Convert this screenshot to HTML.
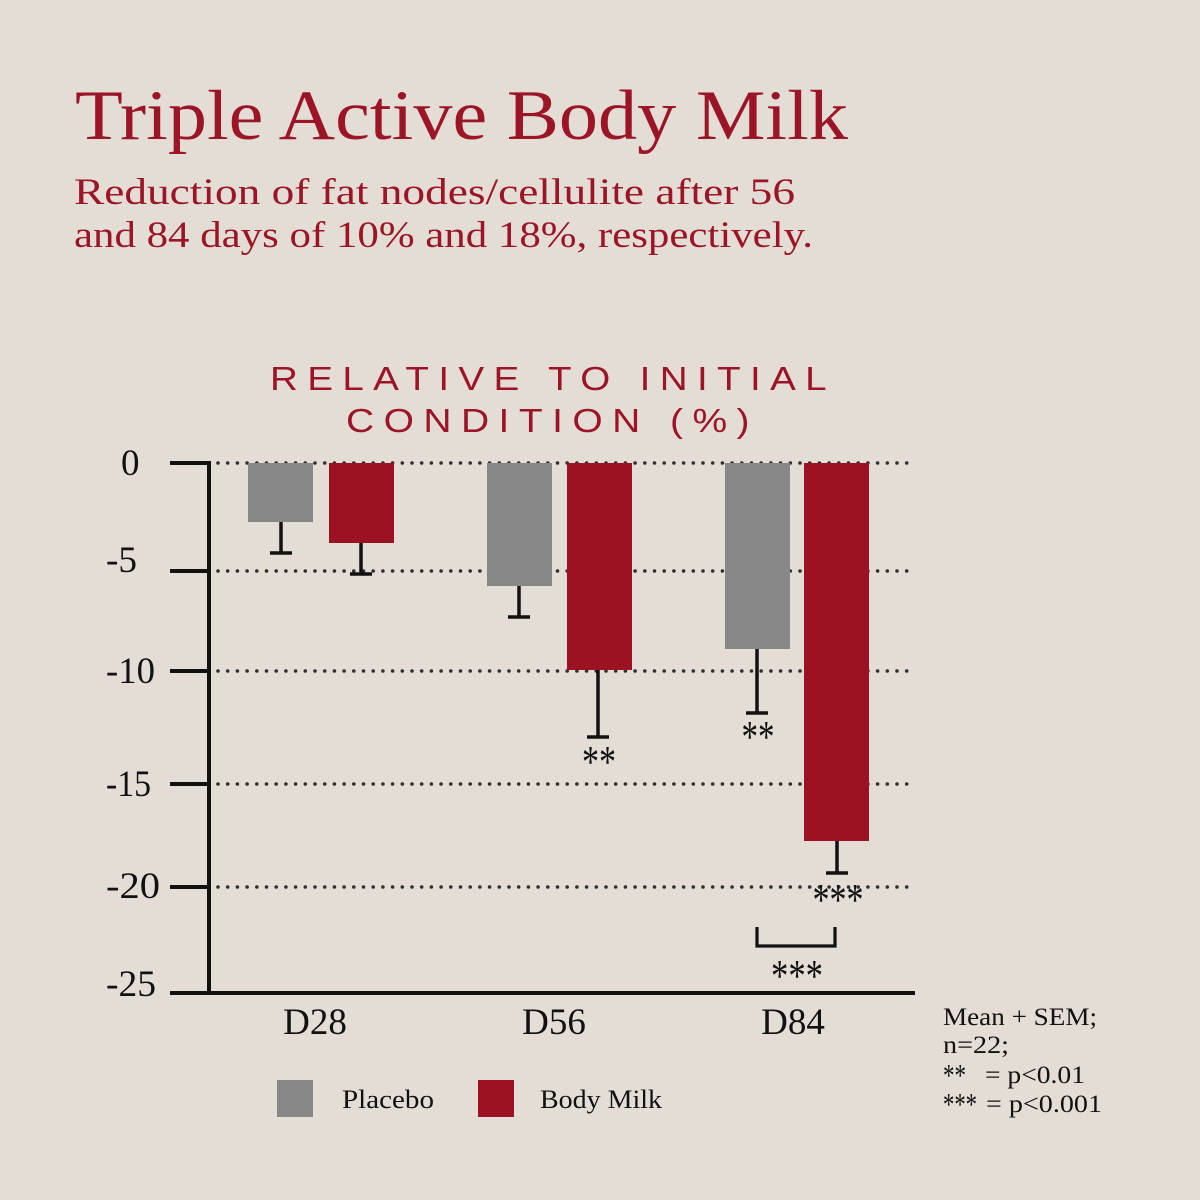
<!DOCTYPE html>
<html><head><meta charset="utf-8"><style>
html,body{margin:0;padding:0;background:#e3ddd6;}
svg{display:block;}
</style></head><body>
<svg width="1200" height="1200" viewBox="0 0 1200 1200" xmlns="http://www.w3.org/2000/svg">
<rect x="0" y="0" width="1200" height="1200" fill="#e3ddd6"/>
<g fill="#9b1526" font-family="Liberation Serif, serif">
<text x="75" y="139" font-size="71" textLength="773" lengthAdjust="spacingAndGlyphs">Triple Active Body Milk</text>
<text x="74" y="204" font-size="37" textLength="721" lengthAdjust="spacingAndGlyphs">Reduction of fat nodes/cellulite after 56</text>
<text x="74" y="247" font-size="37" textLength="739" lengthAdjust="spacingAndGlyphs">and 84 days of 10% and 18%, respectively.</text>
</g>
<g fill="#9b1526" font-family="Liberation Sans, sans-serif" font-size="33">
<text x="270" y="390" textLength="566" lengthAdjust="spacingAndGlyphs" letter-spacing="8">RELATIVE TO INITIAL</text>
<text x="346" y="432" textLength="413" lengthAdjust="spacingAndGlyphs" letter-spacing="8">CONDITION (%)</text>
</g>
<!-- gridlines -->
<g stroke="#2e2e2e" stroke-width="3.6" stroke-linecap="round" stroke-dasharray="0 9.7" fill="none">
<line x1="218" y1="463" x2="916" y2="463"/>
<line x1="218" y1="571" x2="916" y2="571"/>
<line x1="218" y1="671" x2="916" y2="671"/>
<line x1="218" y1="784" x2="916" y2="784"/>
<line x1="218" y1="887" x2="916" y2="887"/>
</g>
<!-- bars -->
<g>
<rect x="248" y="463" width="65" height="59" fill="#878787"/>
<rect x="329" y="463" width="65" height="80" fill="#9b1322"/>
<rect x="487" y="463" width="65" height="123" fill="#878787"/>
<rect x="567" y="463" width="65" height="207" fill="#9b1322"/>
<rect x="725" y="463" width="65" height="186" fill="#878787"/>
<rect x="804" y="463" width="65" height="378" fill="#9b1322"/>
</g>
<!-- error bars -->
<g stroke="#111" stroke-width="3.5" fill="none">
<line x1="281" y1="522" x2="281" y2="553"/><line x1="270" y1="553" x2="292" y2="553"/>
<line x1="361" y1="543" x2="361" y2="574"/><line x1="350" y1="574" x2="372" y2="574"/>
<line x1="519" y1="586" x2="519" y2="617"/><line x1="508" y1="617" x2="530" y2="617"/>
<line x1="598" y1="670" x2="598" y2="737"/><line x1="587" y1="737" x2="609" y2="737"/>
<line x1="757" y1="649" x2="757" y2="713"/><line x1="746" y1="713" x2="768" y2="713"/>
<line x1="837" y1="841" x2="837" y2="873"/><line x1="826" y1="873" x2="848" y2="873"/>
<polyline points="757,927 757,946 835,946 835,927" stroke-width="3.2"/>
</g>
<!-- axes -->
<g stroke="#111" stroke-width="4" fill="none">
<line x1="209" y1="461" x2="209" y2="995"/>
<line x1="170" y1="993" x2="915" y2="993"/>
<line x1="170" y1="463" x2="209" y2="463"/>
<line x1="170" y1="571" x2="209" y2="571"/>
<line x1="170" y1="671" x2="209" y2="671"/>
<line x1="170" y1="784" x2="209" y2="784"/>
<line x1="170" y1="887" x2="209" y2="887"/>
</g>
<!-- asterisks -->
<g fill="#111" font-family="Liberation Serif, serif" font-size="46" text-anchor="middle">
<text x="599" y="777" textLength="34" lengthAdjust="spacingAndGlyphs">**</text>
<text x="758" y="752" textLength="33" lengthAdjust="spacingAndGlyphs">**</text>
<text x="838" y="915" textLength="51" lengthAdjust="spacingAndGlyphs">***</text>
<text x="797" y="991" textLength="52" lengthAdjust="spacingAndGlyphs">***</text>
</g>
<!-- y labels -->
<g fill="#111" font-family="Liberation Serif, serif" font-size="37">
<text x="121" y="475">0</text>
<text x="106" y="572" textLength="31" lengthAdjust="spacingAndGlyphs">-5</text>
<text x="106" y="683" textLength="49" lengthAdjust="spacingAndGlyphs">-10</text>
<text x="106" y="796" textLength="45" lengthAdjust="spacingAndGlyphs">-15</text>
<text x="106" y="898" textLength="54" lengthAdjust="spacingAndGlyphs">-20</text>
<text x="106" y="996" textLength="50" lengthAdjust="spacingAndGlyphs">-25</text>
</g>
<!-- x labels -->
<g fill="#111" font-family="Liberation Serif, serif" font-size="37" text-anchor="middle">
<text x="315" y="1034">D28</text>
<text x="554" y="1034">D56</text>
<text x="793" y="1034">D84</text>
</g>
<!-- legend -->
<rect x="277" y="1080" width="36" height="37" fill="#878787"/>
<rect x="478" y="1080" width="36" height="37" fill="#9b1322"/>
<g fill="#111" font-family="Liberation Serif, serif" font-size="26">
<text x="342" y="1108" textLength="92" lengthAdjust="spacingAndGlyphs">Placebo</text>
<text x="540" y="1108" textLength="122" lengthAdjust="spacingAndGlyphs">Body Milk</text>
</g>
<!-- footnote -->
<g fill="#111" font-family="Liberation Serif, serif" font-size="25">
<text x="943" y="1025" textLength="154" lengthAdjust="spacingAndGlyphs">Mean + SEM;</text>
<text x="943" y="1053" textLength="66" lengthAdjust="spacingAndGlyphs">n=22;</text>
<text x="943" y="1086" font-size="32" textLength="23" lengthAdjust="spacingAndGlyphs">**</text>
<text x="985" y="1083" textLength="100" lengthAdjust="spacingAndGlyphs">= p&lt;0.01</text>
<text x="943" y="1115" font-size="32" textLength="34" lengthAdjust="spacingAndGlyphs">***</text>
<text x="986" y="1112" textLength="116" lengthAdjust="spacingAndGlyphs">= p&lt;0.001</text>
</g>
</svg>
</body></html>
